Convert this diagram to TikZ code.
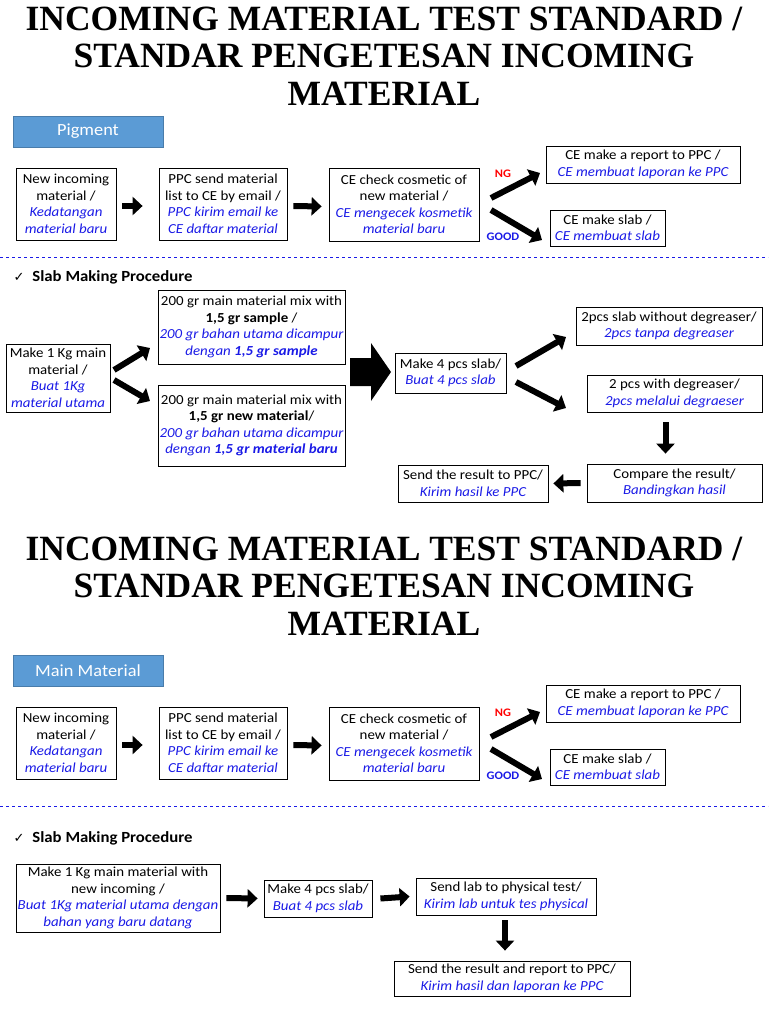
\documentclass[tikz,border=0pt]{standalone}
\usepackage{fontspec}
\setmainfont{Carlito}[FakeStretch=1.08]
\newfontfamily\ttl{Liberation Serif}
\newfontfamily\dv{DejaVu Sans}
\usetikzlibrary{arrows.meta,shapes.arrows,calc}
\definecolor{bl}{HTML}{1A1AE6}
\definecolor{hdr}{HTML}{5B9BD5}
\newcommand\bi[1]{\textcolor{bl}{\itshape #1}}
\begin{document}
\begin{tikzpicture}[x=1pt,y=-1pt,
  box/.style={draw,line width=0.8pt,align=center,inner sep=1pt,font=\fontsize{13.8}{16.5}\selectfont},
  fat/.style={line width=6pt,-{Triangle[length=10pt,width=18pt]}},
  head/.style={fill=hdr,draw=hdr!80!black,text=white,minimum width=150pt,minimum height=31pt,font=\fontsize{17}{20}\selectfont},
  title/.style={align=center,font=\ttl\bfseries\fontsize{35.5}{37.5}\selectfont},
  lab/.style={font=\bfseries\fontsize{11.5}{13}\selectfont},
  dashline/.style={draw=bl,dashed,line width=0.8pt}]
\useasboundingbox (0,0) rectangle (768,1024);
% ---------- top half
\node[title] (t1) at (384,56) {INCOMING MATERIAL TEST STANDARD /\\STANDAR PENGETESAN INCOMING\\MATERIAL};
\node[head] (h1) at (88,131.5) {Pigment};
\node[box,minimum width=100pt,minimum height=72pt] (a1) at (66,204) {New incoming\\material /\\\bi{Kedatangan}\\\bi{material baru}};
\node[box,minimum width=128pt,minimum height=72pt] (a2) at (223,204) {PPC send material\\list to CE by email /\\\bi{PPC kirim email ke}\\\bi{CE daftar material}};
\node[box,minimum width=150pt,minimum height=73pt] (a3) at (404,204.5) {CE check cosmetic of\\new material /\\\bi{CE mengecek kosmetik}\\\bi{material baru}};
\node[box,minimum width=194pt,minimum height=37pt] (a4) at (643,164.5) {CE make a report to PPC /\\\bi{CE membuat laporan ke PPC}};
\node[box,minimum width=115pt,minimum height=36pt] (a5) at (607.5,228) {CE make slab /\\\bi{CE membuat slab}};
\draw[fat] ($(a1.east)+(6,2)$) -- ($(a2.west)+(-16,2)$);
\draw[fat] ($(a2.east)+(6,2)$) -- ($(a3.west)+(-7,2)$);
\coordinate (n1) at (491,198); \coordinate (n2) at (540,173);
\coordinate (g1) at (491,210); \coordinate (g2) at (542,240);
\draw[fat] (n1) -- (n2); \draw[fat] (g1) -- (g2);
\node[lab,text=red] (ng1) at (503,174) {NG};
\node[lab,text=bl] (gd1) at (503,237) {GOOD};
\draw[dashline] (0,257) -- (768,257);
\node[anchor=west,font=\bfseries\fontsize{15.5}{17}\selectfont] (s1) at (10,277) {{\dv\fontsize{13}{14}\selectfont ✓}\hspace{8pt}Slab Making Procedure};
\node[box,minimum width=104pt,minimum height=68pt] (m1) at (58,378) {Make 1 Kg main\\material /\\\bi{Buat 1Kg}\\\bi{material utama}};
\node[box,minimum width=187pt,minimum height=74pt] (u) at (251.5,327) {200 gr main material mix with\\\textbf{1,5 gr sample} /\\\bi{200 gr bahan utama dicampur}\\\bi{dengan \textbf{1,5 gr sample}}};
\node[box,minimum width=187pt,minimum height=81pt] (l) at (251.5,425.5) {200 gr main material mix with\\\textbf{1,5 gr new material}/\\\bi{200 gr bahan utama dicampur}\\\bi{dengan \textbf{1,5 gr material baru}}};
\node[box,minimum width=111pt,minimum height=40pt] (m4) at (450.5,373) {Make 4 pcs slab/\\\bi{Buat 4 pcs slab}};
\node[box,minimum width=186pt,minimum height=38pt] (w) at (669,326) {2pcs slab without degreaser/\\\bi{2pcs tanpa degreaser}};
\node[box,minimum width=175pt,minimum height=37pt] (d) at (674.5,393.5) {2 pcs with degreaser/\\\bi{2pcs melalui degraeser}};
\node[box,minimum width=175pt,minimum height=38pt] (cmp) at (674.5,483) {Compare the result/\\\bi{Bandingkan hasil}};
\node[box,minimum width=150pt,minimum height=37pt] (snd) at (473,483.5) {Send the result to PPC/\\\bi{Kirim hasil ke PPC}};
\draw[fat] (114,370) -- (150,348);
\draw[fat] (114,380) -- (150,401);
\fill (350,358) -- (371,358) -- (371,343) -- (391,372) -- (371,401) -- (371,386) -- (350,386) -- cycle;
\draw[fat] (516,366) -- (566,337);
\draw[fat] (516,382) -- (566,408);
\draw[fat] ($(d.south)+(-9,10)$) -- ($(cmp.north)+(-9,-10)$);
\draw[fat] ($(cmp.west)+(-6,0)$) -- ($(snd.east)+(5,0)$);
% ---------- bottom half
\node[title] (t2) at (384,586) {INCOMING MATERIAL TEST STANDARD /\\STANDAR PENGETESAN INCOMING\\MATERIAL};
\node[head] (h2) at (88,670.5) {Main Material};
\node[box,minimum width=100pt,minimum height=72pt] (b1) at (66,743) {New incoming\\material /\\\bi{Kedatangan}\\\bi{material baru}};
\node[box,minimum width=128pt,minimum height=72pt] (b2) at (223,743) {PPC send material\\list to CE by email /\\\bi{PPC kirim email ke}\\\bi{CE daftar material}};
\node[box,minimum width=150pt,minimum height=73pt] (b3) at (404,743.5) {CE check cosmetic of\\new material /\\\bi{CE mengecek kosmetik}\\\bi{material baru}};
\node[box,minimum width=194pt,minimum height=37pt] (b4) at (643,703.5) {CE make a report to PPC /\\\bi{CE membuat laporan ke PPC}};
\node[box,minimum width=115pt,minimum height=36pt] (b5) at (607.5,767) {CE make slab /\\\bi{CE membuat slab}};
\draw[fat] ($(b1.east)+(6,2)$) -- ($(b2.west)+(-16,2)$);
\draw[fat] ($(b2.east)+(6,2)$) -- ($(b3.west)+(-7,2)$);
\draw[fat] (491,737) -- (540,712);
\draw[fat] (491,749) -- (542,779);
\node[lab,text=red] (ng2) at (503,713) {NG};
\node[lab,text=bl] (gd2) at (503,776) {GOOD};
\draw[dashline] (0,806) -- (768,806);
\node[anchor=west,font=\bfseries\fontsize{15.5}{17}\selectfont] (s2) at (10,838) {{\dv\fontsize{13}{14}\selectfont ✓}\hspace{8pt}Slab Making Procedure};
\node[box,minimum width=204pt,minimum height=68pt] (A) at (118,898) {Make 1 Kg main material with\\new incoming /\\\bi{Buat 1Kg material utama dengan}\\\bi{bahan yang baru datang}};
\node[box,minimum width=108pt,minimum height=37pt] (B) at (318,898.5) {Make 4 pcs slab/\\\bi{Buat 4 pcs slab}};
\node[box,minimum width=180pt,minimum height=37pt] (C) at (506,896.5) {Send lab to physical test/\\\bi{Kirim lab untuk tes physical}};
\node[box,minimum width=236pt,minimum height=35pt] (D) at (512,978.5) {Send the result and report to PPC/\\\bi{Kirim hasil dan laporan ke PPC}};
\draw[fat] ($(A.east)+(6,0)$) -- ($(B.west)+(-6,0)$);
\draw[fat] ($(B.east)+(8,0)$) -- ($(C.west)+(-6,0)$);
\draw[fat] ($(C.south)+(-1,5)$) -- ($(D.north)+(-7,-10)$);
\end{tikzpicture}
\end{document}
